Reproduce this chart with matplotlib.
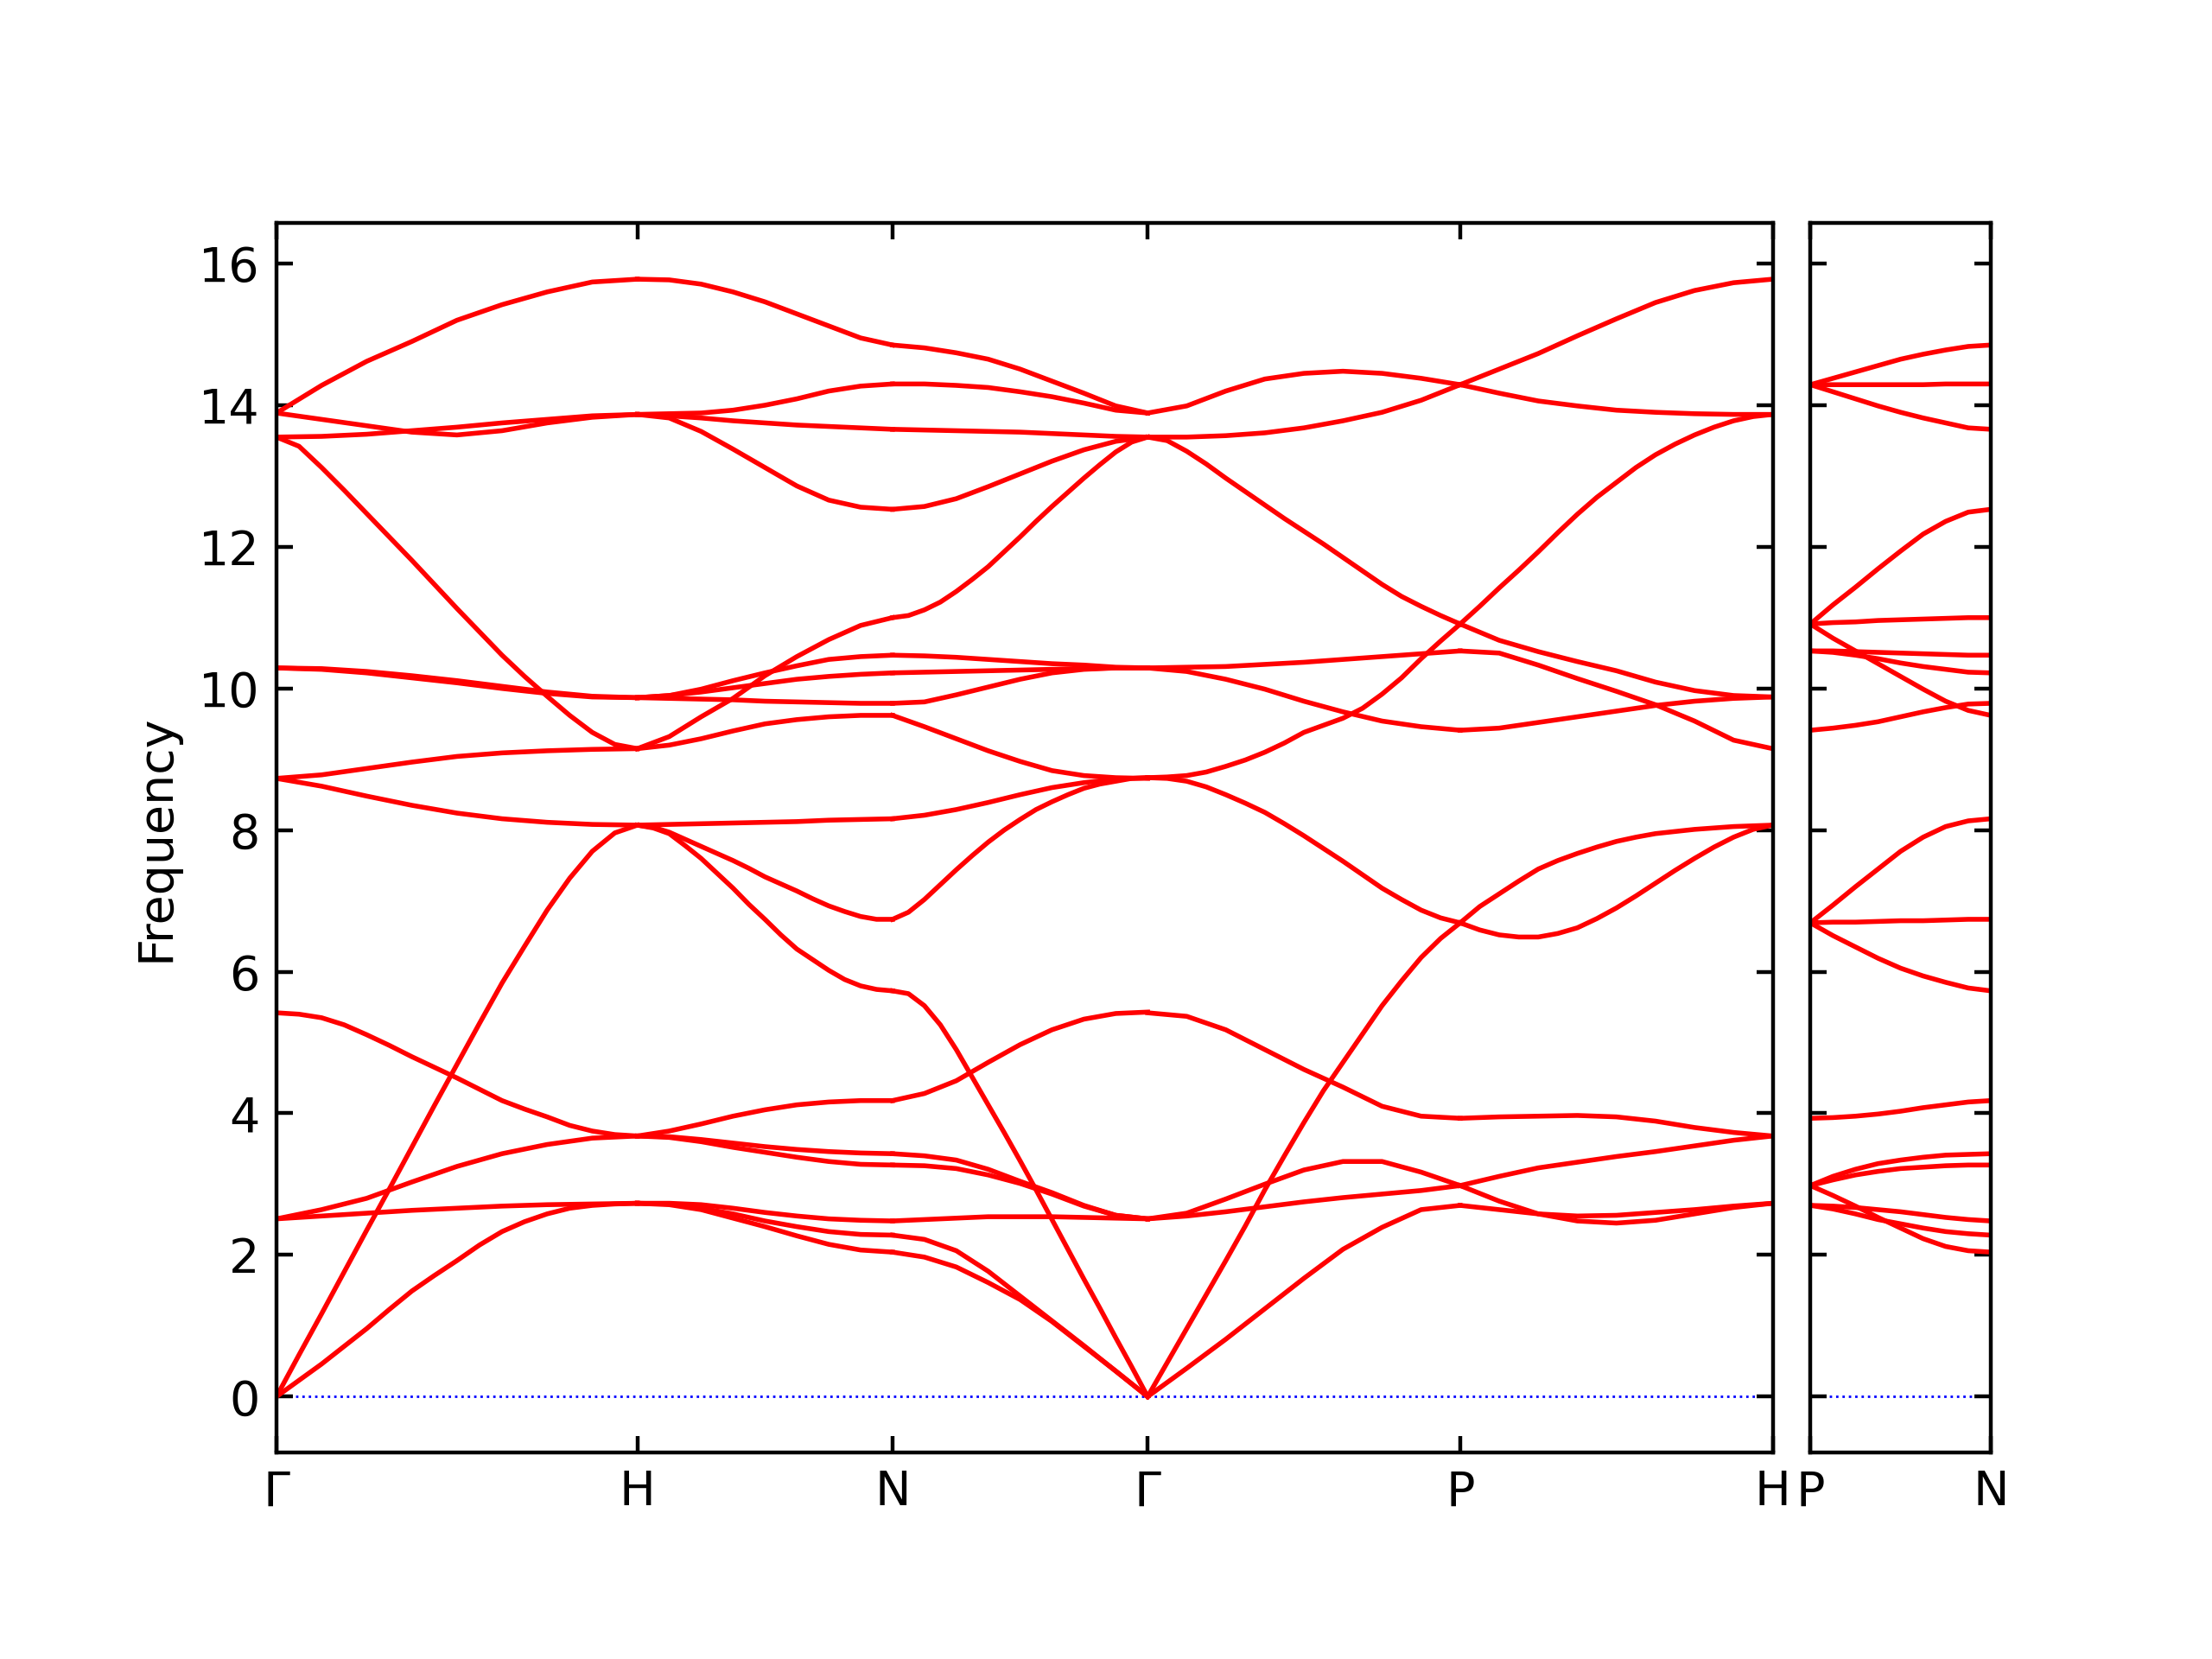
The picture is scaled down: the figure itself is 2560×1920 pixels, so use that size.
import numpy as np
import matplotlib
matplotlib.use("Agg")
import matplotlib.pyplot as plt

# high-symmetry path of the bcc zone (lengths in 2pi/a)
labels_main = ['Γ', 'H', 'N', 'Γ', 'P', 'H']
labels_side = ['P', 'N']
seg_main = [1.0, 0.7071, 0.7071, 0.8660, 0.8660]
seg_side = [0.5]

# frequencies read along each segment; every branch is sampled at evenly
# spaced q-points (9, or 17 for the strongly curved ones)
gamma_h = [
    [13.89, 14.28, 14.62, 14.90, 15.20, 15.42, 15.60, 15.74, 15.78],
    [13.89, 13.80, 13.71, 13.62, 13.58, 13.64, 13.75, 13.83, 13.87],
    [13.55, 13.56, 13.59, 13.64, 13.69, 13.75, 13.80, 13.85, 13.87],
    [13.55, 13.42, 13.12, 12.80, 12.47, 12.14, 11.81, 11.47, 11.13,
     10.80, 10.47, 10.17, 9.89, 9.62, 9.38, 9.21, 9.15],
    [10.29, 10.28, 10.24, 10.18, 10.11, 10.03, 9.95, 9.89, 9.87],
    [10.29, 10.27, 10.22, 10.15, 10.08, 10.00, 9.93, 9.88, 9.87],
    [8.73, 8.78, 8.87, 8.96, 9.04, 9.09, 9.12, 9.14, 9.15],
    [8.73, 8.62, 8.48, 8.35, 8.24, 8.16, 8.11, 8.08, 8.07],
    [0.00, 0.59, 1.17, 1.76, 2.35, 2.93, 3.52, 4.11, 4.69,
     5.27, 5.84, 6.36, 6.87, 7.32, 7.70, 7.96, 8.07],
    [5.42, 5.40, 5.35, 5.25, 5.11, 4.96, 4.80, 4.65, 4.50,
     4.34, 4.18, 4.06, 3.95, 3.83, 3.75, 3.70, 3.68],
    [2.51, 2.64, 2.80, 3.03, 3.25, 3.43, 3.56, 3.65, 3.68],
    [2.51, 2.55, 2.59, 2.63, 2.66, 2.69, 2.71, 2.72, 2.73],
    [0.00, 0.23, 0.46, 0.71, 0.96, 1.23, 1.49, 1.71, 1.92,
     2.14, 2.33, 2.47, 2.58, 2.66, 2.70, 2.72, 2.73],
]

h_n = [
    [15.78, 15.77, 15.71, 15.60, 15.46, 15.29, 15.12, 14.95, 14.85],
    [13.87, 13.88, 13.89, 13.93, 14.00, 14.09, 14.20, 14.27, 14.30],
    [13.87, 13.85, 13.82, 13.78, 13.75, 13.72, 13.70, 13.68, 13.66],
    [13.87, 13.82, 13.63, 13.38, 13.12, 12.86, 12.66, 12.56, 12.53],
    [9.15, 9.32, 9.60, 9.86, 10.18, 10.45, 10.69, 10.89, 11.00],
    [9.87, 9.90, 9.99, 10.11, 10.22, 10.32, 10.41, 10.45, 10.47],
    [9.87, 9.90, 9.95, 10.01, 10.07, 10.13, 10.17, 10.20, 10.22],
    [9.87, 9.86, 9.85, 9.84, 9.82, 9.81, 9.80, 9.79, 9.79],
    [9.15, 9.20, 9.29, 9.40, 9.50, 9.56, 9.60, 9.62, 9.62],
    [8.07, 8.08, 8.09, 8.10, 8.11, 8.12, 8.14, 8.15, 8.16],
    [8.07, 8.04, 7.97, 7.87, 7.77, 7.67, 7.57, 7.46, 7.34,
     7.24, 7.14, 7.03, 6.93, 6.85, 6.78, 6.74, 6.74],
    [8.07, 8.03, 7.95, 7.78, 7.60, 7.39, 7.18, 6.95, 6.74,
     6.52, 6.32, 6.17, 6.02, 5.89, 5.80, 5.75, 5.73],
    [3.68, 3.75, 3.85, 3.96, 4.05, 4.12, 4.16, 4.18, 4.18],
    [3.68, 3.67, 3.63, 3.58, 3.53, 3.49, 3.46, 3.44, 3.43],
    [3.68, 3.66, 3.60, 3.52, 3.45, 3.38, 3.32, 3.28, 3.27],
    [2.73, 2.73, 2.71, 2.66, 2.60, 2.55, 2.51, 2.49, 2.48],
    [2.73, 2.72, 2.66, 2.58, 2.48, 2.40, 2.33, 2.29, 2.28],
    [2.73, 2.71, 2.64, 2.52, 2.40, 2.27, 2.15, 2.07, 2.04],
]

n_gamma = [
    [14.85, 14.81, 14.74, 14.65, 14.51, 14.34, 14.17, 13.99, 13.89],
    [14.30, 14.30, 14.28, 14.25, 14.19, 14.12, 14.03, 13.93, 13.89],
    [13.66, 13.65, 13.64, 13.63, 13.62, 13.60, 13.58, 13.56, 13.55],
    [12.53, 12.57, 12.68, 12.85, 13.03, 13.21, 13.37, 13.49, 13.55],
    [11.00, 11.03, 11.11, 11.22, 11.37, 11.54, 11.72, 11.93, 12.14,
     12.36, 12.57, 12.77, 12.97, 13.16, 13.34, 13.48, 13.55],
    [10.47, 10.46, 10.44, 10.41, 10.38, 10.35, 10.33, 10.30, 10.29],
    [10.22, 10.23, 10.24, 10.25, 10.26, 10.27, 10.28, 10.29, 10.29],
    [9.79, 9.81, 9.91, 10.02, 10.13, 10.22, 10.27, 10.29, 10.29],
    [9.62, 9.46, 9.29, 9.12, 8.97, 8.84, 8.77, 8.74, 8.73],
    [8.16, 8.21, 8.29, 8.39, 8.50, 8.60, 8.67, 8.72, 8.74],
    [6.74, 6.84, 7.02, 7.23, 7.44, 7.64, 7.83, 8.00, 8.15,
     8.29, 8.40, 8.50, 8.59, 8.65, 8.69, 8.73, 8.74],
    [5.73, 5.69, 5.52, 5.25, 4.90, 4.51, 4.12, 3.73, 3.33,
     2.92, 2.50, 2.08, 1.66, 1.25, 0.83, 0.42, 0.00],
    [4.18, 4.28, 4.46, 4.72, 4.97, 5.18, 5.33, 5.41, 5.43],
    [3.43, 3.40, 3.34, 3.21, 3.04, 2.88, 2.70, 2.56, 2.51],
    [3.27, 3.26, 3.22, 3.13, 3.01, 2.86, 2.69, 2.56, 2.51],
    [2.48, 2.50, 2.52, 2.54, 2.54, 2.54, 2.53, 2.52, 2.51],
    [2.28, 2.22, 2.06, 1.77, 1.42, 1.07, 0.72, 0.36, 0.00],
    [2.04, 1.97, 1.83, 1.61, 1.37, 1.06, 0.71, 0.36, 0.00],
]

gamma_p = [
    [13.89, 13.99, 14.20, 14.37, 14.45, 14.48, 14.45, 14.38, 14.29],
    [13.55, 13.55, 13.57, 13.61, 13.68, 13.78, 13.90, 14.07, 14.29],
    [13.55, 13.50, 13.35, 13.17, 12.97, 12.78, 12.59, 12.40, 12.22,
     12.04, 11.85, 11.66, 11.47, 11.30, 11.16, 11.03, 10.91],
    [8.74, 8.75, 8.77, 8.82, 8.90, 8.99, 9.10, 9.23, 9.38,
     9.48, 9.58, 9.72, 9.92, 10.15, 10.42, 10.67, 10.91],
    [10.29, 10.30, 10.31, 10.34, 10.37, 10.41, 10.45, 10.49, 10.53],
    [10.29, 10.24, 10.13, 9.99, 9.82, 9.67, 9.54, 9.46, 9.41],
    [8.74, 8.73, 8.69, 8.61, 8.50, 8.38, 8.25, 8.09, 7.92,
     7.74, 7.56, 7.37, 7.18, 7.02, 6.87, 6.76, 6.69],
    [5.42, 5.37, 5.18, 4.90, 4.62, 4.37, 4.10, 3.96, 3.93],
    [0.00, 0.48, 0.96, 1.44, 1.92, 2.41, 2.92, 3.40, 3.87,
     4.32, 4.72, 5.12, 5.52, 5.87, 6.20, 6.47, 6.69],
    [2.51, 2.59, 2.79, 3.00, 3.20, 3.32, 3.32, 3.17, 2.98],
    [2.51, 2.55, 2.61, 2.68, 2.75, 2.81, 2.86, 2.91, 2.98],
    [0.00, 0.40, 0.81, 1.24, 1.67, 2.08, 2.39, 2.64, 2.70],
]

p_h = [
    [14.29, 14.51, 14.73, 14.98, 15.22, 15.45, 15.62, 15.73, 15.78],
    [14.29, 14.17, 14.06, 13.99, 13.93, 13.90, 13.88, 13.87, 13.87],
    [10.91, 11.16, 11.42, 11.67, 11.93, 12.20, 12.46, 12.70, 12.91,
     13.12, 13.30, 13.45, 13.58, 13.69, 13.78, 13.84, 13.87],
    [10.91, 10.68, 10.52, 10.38, 10.25, 10.09, 9.97, 9.90, 9.88],
    [10.53, 10.50, 10.33, 10.14, 9.96, 9.77, 9.54, 9.27, 9.15],
    [9.41, 9.44, 9.52, 9.60, 9.68, 9.76, 9.82, 9.86, 9.88],
    [6.69, 6.92, 7.10, 7.28, 7.45, 7.57, 7.67, 7.76, 7.84,
     7.90, 7.95, 7.98, 8.01, 8.03, 8.05, 8.06, 8.07],
    [6.69, 6.59, 6.52, 6.49, 6.49, 6.54, 6.62, 6.75, 6.90,
     7.07, 7.25, 7.43, 7.60, 7.76, 7.90, 8.01, 8.07],
    [3.93, 3.95, 3.96, 3.97, 3.95, 3.89, 3.80, 3.73, 3.68],
    [2.98, 3.11, 3.23, 3.31, 3.39, 3.46, 3.54, 3.62, 3.68],
    [2.98, 2.76, 2.58, 2.48, 2.45, 2.49, 2.58, 2.67, 2.73],
    [2.70, 2.64, 2.58, 2.55, 2.56, 2.60, 2.64, 2.69, 2.73],
]

p_n = [
    [14.29, 14.38, 14.47, 14.56, 14.65, 14.72, 14.78, 14.83, 14.85],
    [14.29, 14.29, 14.29, 14.29, 14.29, 14.29, 14.30, 14.30, 14.30],
    [14.29, 14.19, 14.09, 13.99, 13.90, 13.82, 13.75, 13.68, 13.66],
    [10.91, 11.18, 11.43, 11.69, 11.94, 12.18, 12.36, 12.49, 12.53],
    [10.91, 10.93, 10.94, 10.96, 10.97, 10.98, 10.99, 11.00, 11.00],
    [10.91, 10.71, 10.53, 10.35, 10.17, 9.99, 9.82, 9.69, 9.62],
    [10.53, 10.53, 10.52, 10.51, 10.50, 10.49, 10.48, 10.47, 10.47],
    [10.53, 10.51, 10.47, 10.42, 10.36, 10.31, 10.27, 10.23, 10.22],
    [9.41, 9.44, 9.48, 9.53, 9.60, 9.67, 9.73, 9.78, 9.79],
    [6.69, 6.94, 7.20, 7.45, 7.70, 7.90, 8.05, 8.13, 8.16],
    [6.69, 6.70, 6.70, 6.71, 6.72, 6.72, 6.73, 6.74, 6.74],
    [6.69, 6.51, 6.35, 6.19, 6.05, 5.94, 5.85, 5.77, 5.73],
    [3.93, 3.94, 3.96, 3.99, 4.03, 4.08, 4.12, 4.16, 4.18],
    [2.98, 3.11, 3.21, 3.29, 3.34, 3.38, 3.41, 3.42, 3.43],
    [2.98, 3.06, 3.13, 3.18, 3.22, 3.24, 3.26, 3.27, 3.27],
    [2.98, 2.84, 2.69, 2.53, 2.38, 2.23, 2.12, 2.06, 2.04],
    [2.70, 2.69, 2.67, 2.64, 2.61, 2.57, 2.53, 2.50, 2.48],
    [2.70, 2.65, 2.58, 2.50, 2.44, 2.38, 2.33, 2.30, 2.28],
]


def draw_path(ax, segments, lengths, labels):
    start = 0.0
    for bands, length in zip(segments, lengths):
        for band in bands:
            q = np.linspace(start, start + length, len(band))
            ax.plot(q, band, 'r-', linewidth=1)
        start += length
    ticks = np.concatenate([[0.0], np.cumsum(lengths)])
    ax.axhline(0, linestyle=':', linewidth=0.5, color='b', zorder=0)
    ax.set_xlim(0, ticks[-1])
    ax.set_xticks(ticks)
    ax.set_xticklabels(labels)
    ax.tick_params(axis='both', which='both', direction='in',
                   top=True, right=True)


fig = plt.figure(figsize=(6.4, 4.8), dpi=400)
gs = fig.add_gridspec(1, 2, width_ratios=[sum(seg_main), sum(seg_side)],
                      wspace=0.045, left=0.125, right=0.9,
                      bottom=0.1245, top=0.8654)
ax1 = fig.add_subplot(gs[0])
ax2 = fig.add_subplot(gs[1], sharey=ax1)

draw_path(ax1, [gamma_h, h_n, n_gamma, gamma_p, p_h], seg_main, labels_main)
draw_path(ax2, [p_n], seg_side, labels_side)
ax2.tick_params(labelleft=False)

ax1.set_ylabel('Frequency')

fig.savefig('out.png', dpi=400)
